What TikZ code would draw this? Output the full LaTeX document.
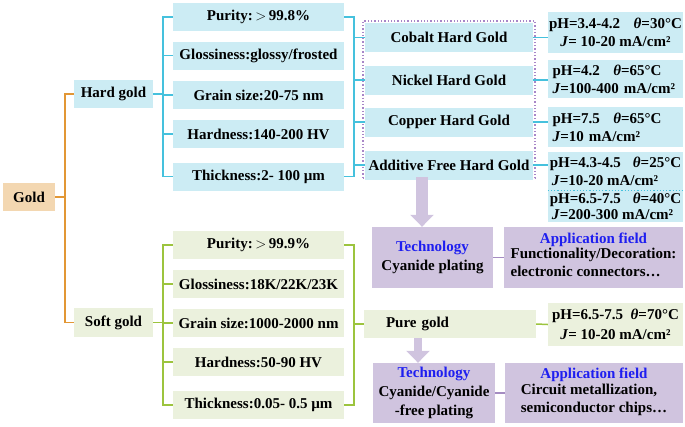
\documentclass[tikz,border=0pt]{standalone}
\usepackage{fontspec}
\setmainfont{Liberation Serif}
\usetikzlibrary{arrows.meta}
\definecolor{cyanfill}{HTML}{CCECF4}
\definecolor{cyanline}{HTML}{45C1DD}
\definecolor{greenfill}{HTML}{EBF1DD}
\definecolor{greenline}{HTML}{9CC43E}
\definecolor{purpfill}{HTML}{D0C4DF}
\definecolor{purpline}{HTML}{A58CC2}
\definecolor{purpdots}{HTML}{A886C8}
\definecolor{goldfill}{HTML}{F3D7B1}
\definecolor{oranline}{HTML}{E29735}
\definecolor{techblue}{RGB}{30,30,240}
\begin{document}
\begin{tikzpicture}[x=1pt,y=-1pt,
  every node/.append style={font=\bfseries\fontsize{15}{18}\selectfont, inner sep=1pt},
  box/.style={rectangle, minimum height=28pt, align=center},
  hbox/.style={box, fill=cyanfill},
  sbox/.style={box, fill=greenfill},
  pbox/.style={box, fill=purpfill},
  gbox/.style={box, fill=goldfill},
  cline/.style={draw=cyanline, line width=1.5pt},
  gline/.style={draw=greenline, line width=1.5pt},
  oline/.style={draw=oranline, line width=1.5pt},
  pline/.style={draw=purpline, line width=1.5pt},
  bigarrow/.style={draw=purpfill, line width=#1, -{Triangle[width=23pt,length=12pt]}, color=purpfill},
  tb/.style={text=techblue}]
\useasboundingbox (0,0) rectangle (685,426);

% root and branches
\node[gbox, minimum width=52pt] (gold) at (29,197) {Gold};
\node[hbox, minimum width=79pt] (hard) at (113.5,94) {Hard gold};
\node[sbox, minimum width=79pt, minimum height=29pt] (soft) at (113.5,322.5) {Soft gold};

% hard gold properties
\node[hbox, minimum width=171pt] (hp1) at (258.5,17) {Purity:\,$>$\,99.8\%};
\node[hbox, minimum width=171pt] (hp2) at (258.5,55.5) {Glossiness:glossy/frosted};
\node[hbox, minimum width=171pt] (hp3) at (258.5,95) {Grain size:20-75 nm};
\node[hbox, minimum width=171pt] (hp4) at (258.5,134) {Hardness:140-200 HV};
\node[hbox, minimum width=171pt] (hp5) at (258.5,176.5) {Thickness:2- 100 µm};

% soft gold properties
\node[sbox, minimum width=171pt] (sp1) at (258.5,245) {Purity:\,$>$\,99.9\%};
\node[sbox, minimum width=171pt] (sp2) at (258.5,284) {Glossiness:18K/22K/23K};
\node[sbox, minimum width=171pt] (sp3) at (258.5,323) {Grain size:1000-2000 nm};
\node[sbox, minimum width=171pt] (sp4) at (258.5,362) {Hardness:50-90 HV};
\node[sbox, minimum width=171pt] (sp5) at (258.5,405) {Thickness:0.05- 0.5 µm};

% hard gold types
\node[draw=purpdots, dotted, line width=1.3pt, minimum width=172pt, minimum height=157pt, inner sep=0pt] (metals) at (449,99.5) {};
\node[hbox, minimum width=168pt, minimum height=29pt] (cobalt) at (449,37.5) {Cobalt Hard Gold};
\node[hbox, minimum width=168pt, minimum height=29pt] (nickel) at (449,80) {Nickel Hard Gold};
\node[hbox, minimum width=168pt, minimum height=29pt] (copper) at (449,122) {Copper Hard Gold};
\node[hbox, minimum width=168pt, minimum height=29pt] (additive) at (449,165) {Additive Free Hard Gold};

% parameters
\node[hbox, minimum width=135pt, minimum height=41pt] (p1) at (615.5,32.5) {pH=3.4-4.2\hspace{0.9em}\textit{θ}=30°C\\\textit{J}= 10-20 mA/cm²};
\node[hbox, minimum width=135pt, minimum height=38pt, align=left, text width=126pt] (p2) at (615.5,79) {pH=4.2\hspace{0.9em}\textit{θ}=65°C\\\textit{J}=100-400 mA/cm²};
\node[hbox, minimum width=135pt, minimum height=40pt, align=left, text width=126pt] (p3) at (615.5,127) {pH=7.5\hspace{0.9em}\textit{θ}=65°C\\\textit{J}=10 mA/cm²};
\node[hbox, minimum width=135pt, minimum height=38pt, inner sep=0pt, align=left] (p4a) at (615.5,171) {pH=4.3-4.5\hspace{0.8em}\textit{θ}=25°C\\\hspace*{2pt}\textit{J}=10-20 mA/cm²};
\node[hbox, minimum width=135pt, minimum height=32pt, inner sep=0pt, align=left, font=\bfseries\fontsize{15}{16}\selectfont] (p4b) at (615.5,206) {pH=6.5-7.5\hspace{0.8em}\textit{θ}=40°C\\\hspace*{2pt}\textit{J}=200-300 mA/cm²};
\draw[draw=cyanline, dotted, line width=1.2pt] (p4a.south west) -- (p4a.south east);

% technology / application (hard)
\node[pbox, minimum width=121pt, minimum height=61pt, font=\bfseries\fontsize{15}{19}\selectfont] (tech1) at (432.5,257.5) {\textcolor{techblue}{Technology}\\Cyanide plating};
\node[pbox, minimum width=179pt, minimum height=61pt] (app1) at (593.5,257.5) {\textcolor{techblue}{Application field}\\[-2pt]\begin{tabular}{@{}l@{}}Functionality/Decoration:\\electronic connectors…\end{tabular}};

% pure gold
\node[sbox, minimum width=172pt, align=left, text width=128pt] (pure) at (450,324) {Pure gold};
\node[sbox, minimum width=135pt, minimum height=43pt, font=\bfseries\fontsize{15}{20}\selectfont] (pp) at (615.5,324.5) {pH=6.5-7.5\hspace{0.5em}\textit{θ}=70°C\\\textit{J}= 10-20 mA/cm²};

% technology / application (soft)
\node[pbox, minimum width=122pt, minimum height=60pt, font=\bfseries\fontsize{15}{19}\selectfont] (tech2) at (434,393) {\textcolor{techblue}{Technology}\\Cyanide/Cyanide\\-free plating};
\node[pbox, minimum width=178pt, minimum height=60pt] (app2) at (594,393) {\textcolor{techblue}{Application field}\\[-1pt]\begin{tabular}{@{}l@{}}Circuit metallization,\\semiconductor chips…\end{tabular}};

% orange connectors
\draw[oline] (gold.east) -- ++(10,0) coordinate (ob);
\draw[oline] (hard.west) -| (ob) |- (soft.west);

% cyan connectors
\draw[cline] (hard.east) -- ++(10,0);
\draw[cline] (hp1.west) -- ++(-10,0) |- (hp5.west);
\foreach \n in {hp2,hp3,hp4} \draw[cline] (\n.west) -- ++(-10,0);
\draw[cline] (hp1.east) -- ++(10,0) |- (hp5.east);
\foreach \n in {cobalt,nickel,copper,additive} \draw[cline] (\n.west) -- ++(-11,0);
\draw[cline] (cobalt.east) -- (cobalt.east -| p1.west);
\draw[cline] (nickel.east) -- (nickel.east -| p2.west);
\draw[cline] (copper.east) -- (copper.east -| p3.west);
\draw[cline] (additive.east) -- (additive.east -| p4a.west);

% green connectors
\draw[gline] (soft.east) -- ++(10,0);
\draw[gline] (sp1.west) -- ++(-10,0) |- (sp5.west);
\foreach \n in {sp2,sp3,sp4} \draw[gline] (\n.west) -- ++(-10,0);
\draw[gline] (sp1.east) -- ++(10,0) |- (sp5.east);
\draw[gline] (pure.west) -- ++(-10,0);
\draw[gline] (pure.east) -- (pp.west);

% purple connectors
\draw[pline] (tech1.east) -- (app1.west);
\draw[pline] (tech2.east) -- (app2.west);

% big arrows
\coordinate (ax1) at (422,0);
\coordinate (ax2) at (418,0);
\draw[bigarrow=12pt] ([yshift=2pt]metals.south -| ax1) -- (tech1.north -| ax1);
\draw[bigarrow=8pt] (pure.south -| ax2) -- (tech2.north -| ax2);
\end{tikzpicture}
\end{document}
